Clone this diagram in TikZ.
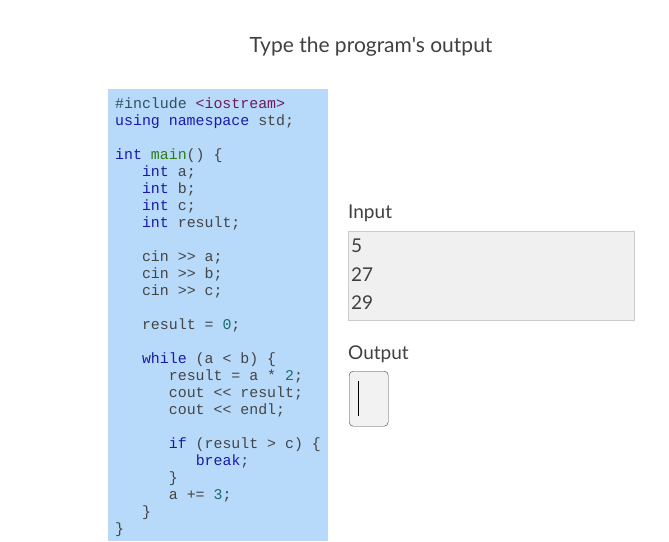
\documentclass[tikz,border=0pt]{standalone}
\usepackage{fontspec}
\setmonofont{Liberation Mono}
\newfontfamily\ui{Lato}
\definecolor{kw}{HTML}{1A1AA6}
\definecolor{fn}{HTML}{2E7D12}
\definecolor{pp}{HTML}{2F5060}
\definecolor{str}{HTML}{6A1B5A}
\definecolor{num}{HTML}{1C6B6B}
\definecolor{txt}{HTML}{444444}
\definecolor{codebg}{HTML}{B8DAFA}
\newcommand{\K}[1]{\textcolor{kw}{#1}}
\begin{document}
\begin{tikzpicture}[x=1pt,y=-1pt,
  cl/.style={anchor=base west,inner sep=0pt,font=\fontsize{14.9}{17}\ttfamily,text=txt},
  ui/.style={anchor=west,inner sep=0pt,font=\ui\fontsize{19}{22}\selectfont,text=black!75}]
\useasboundingbox (0,0) rectangle (669,541);
\fill[white] (0,0) rectangle (669,541);
\node[ui,anchor=center,font=\ui\fontsize{21}{24}\selectfont] (title) at (371,47) {Type the program's output};
\fill[codebg] (108,89) rectangle (328,541);
\def\L#1#2#3{\node[cl] (l#1) at (115+26.85*#2,108+17*#1) {#3};}
\L{0}{0}{\textcolor{pp}{\#include} \textcolor{str}{<iostream>}}
\L{1}{0}{\K{using} \K{namespace} std;}
\L{3}{0}{\K{int} \textcolor{fn}{main}() \{}
\L{4}{1}{\K{int} a;}
\L{5}{1}{\K{int} b;}
\L{6}{1}{\K{int} c;}
\L{7}{1}{\K{int} result;}
\L{9}{1}{cin >> a;}
\L{10}{1}{cin >> b;}
\L{11}{1}{cin >> c;}
\L{13}{1}{result = \textcolor{num}{0};}
\L{15}{1}{\K{while} (a < b) \{}
\L{16}{2}{result = a * \textcolor{num}{2};}
\L{17}{2}{cout << result;}
\L{18}{2}{cout << endl;}
\L{20}{2}{\K{if} (result > c) \{}
\L{21}{3}{\K{break};}
\L{22}{2}{\}}
\L{23}{2}{a += \textcolor{num}{3};}
\L{24}{1}{\}}
\L{25}{0}{\}}
\node[ui] (inlbl) at (348,213) {Input};
\node[draw=black!20,fill=black!6,line width=1pt,minimum width=286pt,minimum height=89pt,anchor=north west,inner sep=0pt] (inbox) at (348,231) {};
\node[ui] (n1) at (351,246) {5};
\node[ui] (n2) at (351,275) {27};
\node[ui] (n3) at (351,303) {29};
\node[ui] (outlbl) at (348,354) {Output};
\node[draw=black!75,fill=black!5,rounded corners=4pt,minimum width=39pt,minimum height=55pt,anchor=north west,inner sep=0pt] (outbox) at (349,371) {};
\draw[black] ([xshift=9pt,yshift=-10pt]outbox.north west) -- ([xshift=9pt,yshift=10pt]outbox.south west);
\end{tikzpicture}
\end{document}
